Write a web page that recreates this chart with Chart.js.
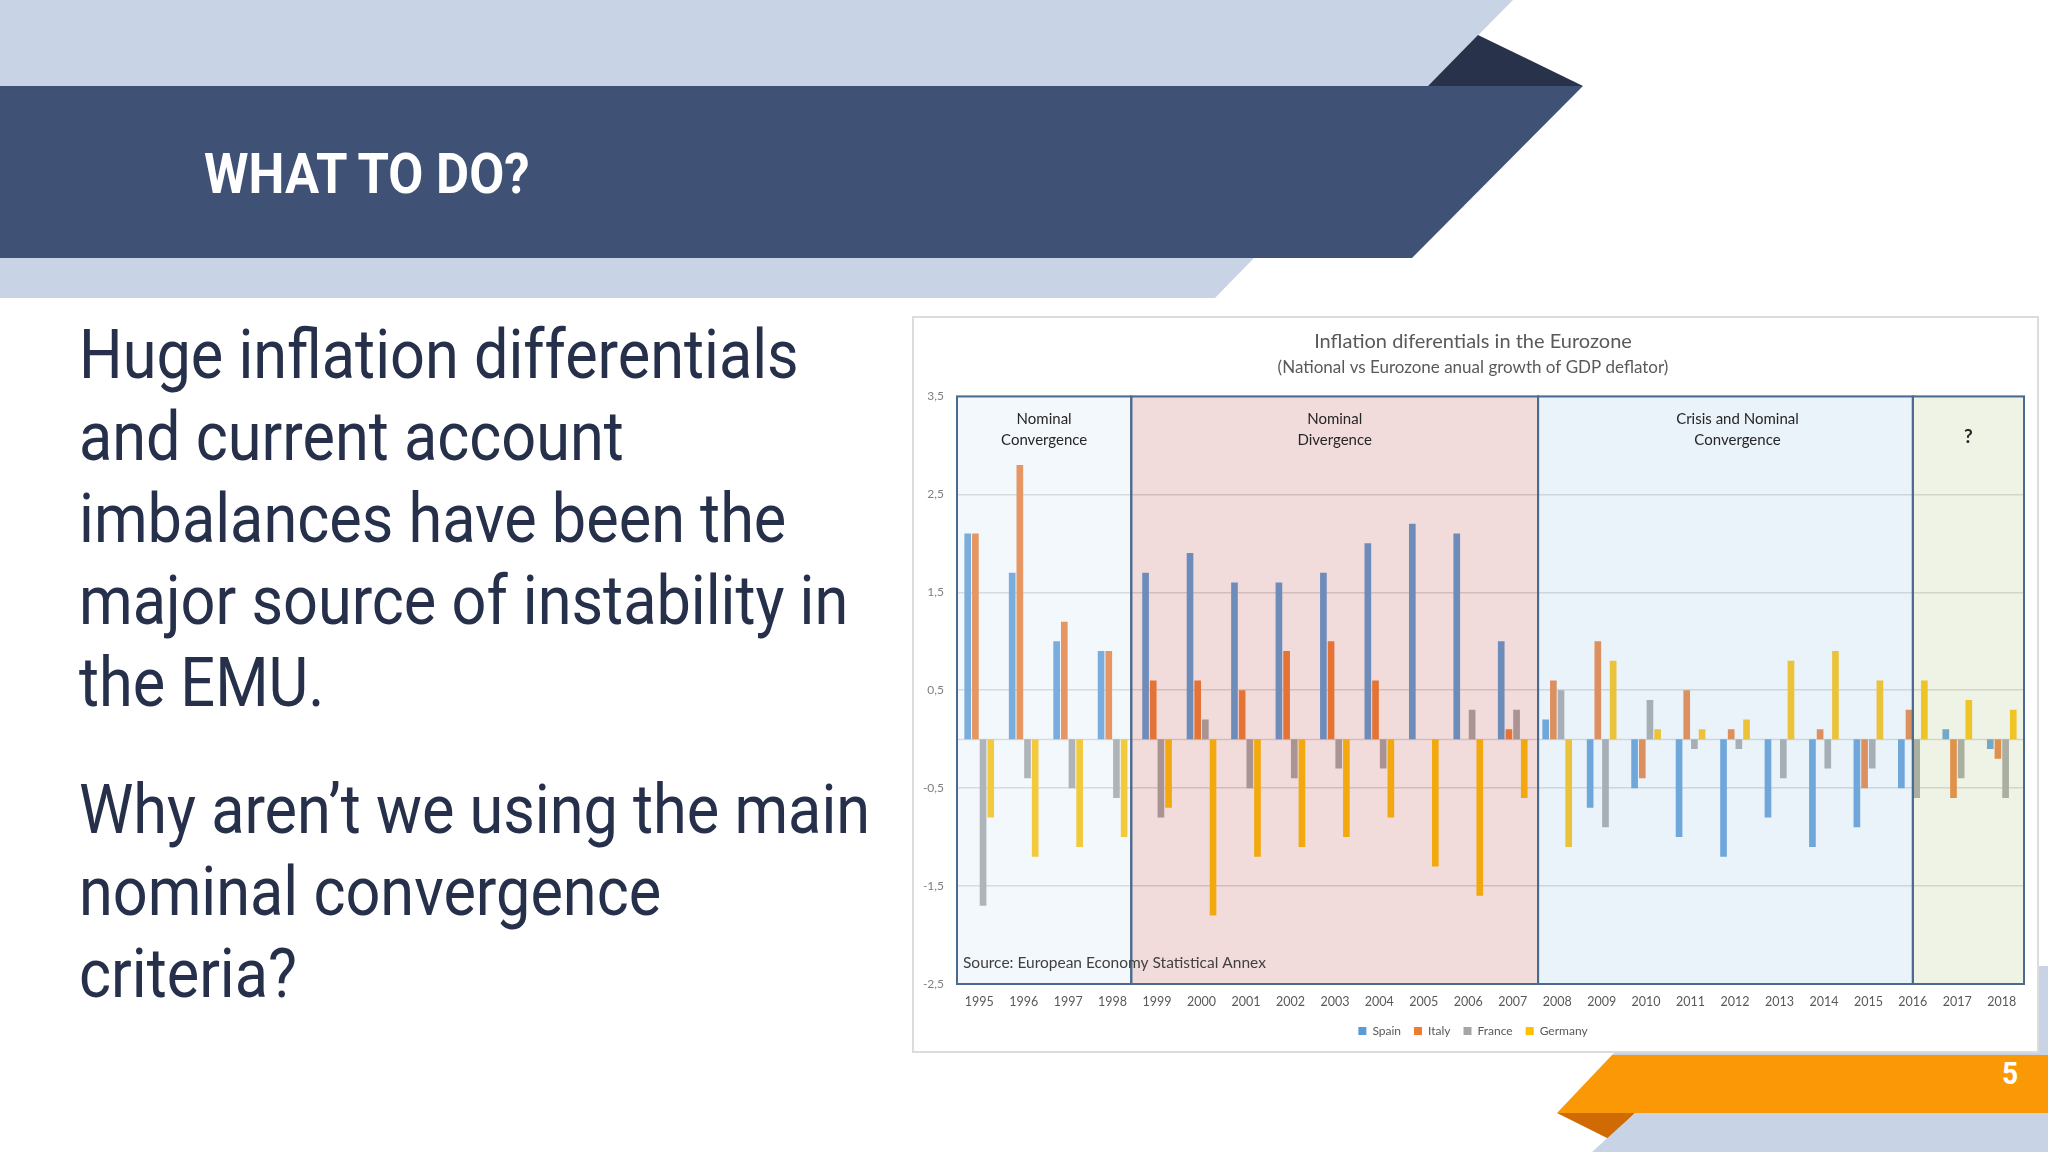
<!DOCTYPE html>
<html>
<head>
<meta charset="utf-8">
<script src="https://cdn.jsdelivr.net/npm/chart.js@4.4.1/dist/chart.umd.min.js"></script>
<style>
  html, body { margin: 0; padding: 0; }
  body { width: 2048px; height: 1152px; position: relative; overflow: hidden; background: #fff; font-family: Roboto, sans-serif; }
  #bg { position: absolute; left: 0; top: 0; }
  .title { position: absolute; left: 204px; top: 147px; font: bold 55px/55px Roboto; color: #fff; white-space: nowrap; transform: scaleX(0.925); transform-origin: left top; }
  .para { position: absolute; left: 79px; font: 68px/82px Roboto; color: #26304a; white-space: nowrap; transform: scaleX(0.9); transform-origin: left top; }
  #box { position: absolute; left: 912px; top: 316px; width: 1127px; height: 737px; box-sizing: border-box; border: 2px solid #dcdcdc; background: #fff; }
  #wrap { position: relative; width: 1123px; height: 733px; }
  .pnum { position: absolute; left: 1990px; top: 1055px; width: 40px; text-align: center; font: bold 32px/36px Roboto; color: #fff; transform: scaleX(0.88); }
</style>
</head>
<body>
<svg id="bg" width="2048" height="1152">
  <polygon points="0,0 1513,0 1428,86 0,86" fill="#c9d3e6"/>
  <polygon points="1478,35 1583,86 1428,86" fill="#28324a"/>
  <polygon points="0,86 1583,86 1412,258 0,258" fill="#3f5276"/>
  <polygon points="0,258 1254,258 1215,298 0,298" fill="#c9d3e6"/>
  <polygon points="1700,966 2048,966 2048,1055 1612,1055" fill="#c9d3e6"/>
  <polygon points="1612,1055 2048,1055 2048,1113 1557,1113" fill="#fb9805"/>
  <polygon points="1557,1113 1635,1113 1609,1139" fill="#d06b03"/>
  <polygon points="1635,1113 2048,1113 2048,1152 1592,1152" fill="#c8d3e6"/>
</svg>
<div class="title">WHAT TO DO?</div>
<div class="para" style="top:314px">Huge inflation differentials<br>and current account<br>imbalances have been the<br>major source of instability in<br>the EMU.</div>
<div class="para" style="top:769px">Why aren’t we using the main<br>nominal convergence<br>criteria?</div>
<div id="box"><div id="wrap"><canvas id="chart"></canvas></div></div>
<div class="pnum">5</div>
<script>
const years = ['1995','1996','1997','1998','1999','2000','2001','2002','2003','2004','2005','2006',
  '2007','2008','2009','2010','2011','2012','2013','2014','2015','2016','2017','2018'];
const spain   = [2.1, 1.7, 1.0, 0.9, 1.7, 1.9, 1.6, 1.6, 1.7, 2.0, 2.2, 2.1, 1.0, 0.2, -0.7, -0.5, -1.0, -1.2, -0.8, -1.1, -0.9, -0.5, 0.1, -0.1];
const italy   = [2.1, 2.8, 1.2, 0.9, 0.6, 0.6, 0.5, 0.9, 1.0, 0.6, 0, 0, 0.1, 0.6, 1.0, -0.4, 0.5, 0.1, 0, 0.1, -0.5, 0.3, -0.6, -0.2];
const france  = [-1.7, -0.4, -0.5, -0.6, -0.8, 0.2, -0.5, -0.4, -0.3, -0.3, 0, 0.3, 0.3, 0.5, -0.9, 0.4, -0.1, -0.1, -0.4, -0.3, -0.3, -0.6, -0.4, -0.6];
const germany = [-0.8, -1.2, -1.1, -1.0, -0.7, -1.8, -1.2, -1.1, -1.0, -0.8, -1.3, -1.6, -0.6, -1.1, 0.8, 0.1, 0.1, 0.2, 0.8, 0.9, 0.6, 0.6, 0.4, 0.3];
const yTicks = [-2.5, -1.5, -0.5, 0.5, 1.5, 2.5, 3.5];

// shaded periods, edges in category units from the left of the plot
const periods = [
  { from: 0, to: 3.92, fill: 'rgba(207,227,247,0.25)', text: ['Nominal', 'Convergence'], dx: 0 },
  { from: 3.92, to: 13.07, fill: 'rgba(192,80,77,0.2)', text: ['Nominal', 'Divergence'], dx: 0 },
  { from: 13.07, to: 21.5, fill: 'rgba(171,203,235,0.25)', text: ['Crisis and Nominal', 'Convergence'], dx: 12 },
  { from: 21.5, to: 24, fill: 'rgba(187,207,155,0.25)', text: ['?'], bold: true, dx: 0 }
];

const zeroLine = {
  id: 'zeroLine',
  beforeDatasetsDraw(chart) {
    const { ctx, chartArea, scales } = chart;
    const y0 = Math.round(scales.y.getPixelForValue(0)) + 0.5;
    ctx.save();
    ctx.strokeStyle = '#d9d9d9';
    ctx.lineWidth = 1.5;
    ctx.beginPath();
    ctx.moveTo(chartArea.left, y0);
    ctx.lineTo(chartArea.right, y0);
    ctx.stroke();
    ctx.restore();
  }
};

const periodBoxes = {
  id: 'periodBoxes',
  afterDatasetsDraw(chart) {
    const { ctx, chartArea, scales } = chart;
    const n = years.length;
    const top = chartArea.top, bottom = chartArea.bottom;
    ctx.save();
    periods.forEach(p => {
      const x1 = scales.x.getPixelForDecimal(p.from / n);
      const x2 = scales.x.getPixelForDecimal(p.to / n);
      ctx.fillStyle = p.fill;
      ctx.fillRect(x1, top, x2 - x1, bottom - top);
    });
    ctx.strokeStyle = '#4a6a8f';
    ctx.lineWidth = 2;
    periods.forEach(p => {
      const x1 = scales.x.getPixelForDecimal(p.from / n);
      const x2 = scales.x.getPixelForDecimal(p.to / n);
      ctx.strokeRect(x1, top, x2 - x1, bottom - top);
    });
    ctx.textAlign = 'center';
    ctx.textBaseline = 'middle';
    ctx.fillStyle = '#262626';
    periods.forEach(p => {
      const cx = (scales.x.getPixelForDecimal(p.from / n) + scales.x.getPixelForDecimal(p.to / n)) / 2 + p.dx;
      if (p.bold) {
        ctx.font = 'bold 19px Lato';
        ctx.fillText(p.text[0], cx, top + 40);
      } else {
        ctx.font = '15px Lato';
        p.text.forEach((t, i) => ctx.fillText(t, cx, top + 23 + i * 21));
      }
    });
    ctx.textAlign = 'left';
    ctx.font = '15.5px Lato';
    ctx.fillStyle = '#404040';
    ctx.fillText('Source: European Economy Statistical Annex', chartArea.left + 6, bottom - 21);
    ctx.restore();
  }
};

new Chart(document.getElementById('chart'), {
  type: 'bar',
  data: {
    labels: years,
    datasets: [
      { label: 'Spain', data: spain, backgroundColor: '#5b9bd5' },
      { label: 'Italy', data: italy, backgroundColor: '#ed7d31' },
      { label: 'France', data: france, backgroundColor: '#a5a5a5' },
      { label: 'Germany', data: germany, backgroundColor: '#ffc000' }
    ]
  },
  options: {
    responsive: true,
    maintainAspectRatio: false,
    animation: false,
    layout: { padding: { left: 8, right: 13, top: 0, bottom: 4 } },
    datasets: { bar: { categoryPercentage: 0.69, barPercentage: 0.87 } },
    plugins: {
      title: {
        display: true,
        text: 'Inflation diferentials in the Eurozone',
        color: '#595959',
        font: { family: 'Lato', size: 20, weight: 'normal' },
        padding: { top: 12, bottom: 3 }
      },
      subtitle: {
        display: true,
        text: '(National vs Eurozone anual growth of GDP deflator)',
        color: '#595959',
        font: { family: 'Lato', size: 17 },
        padding: { bottom: 19 }
      },
      legend: {
        position: 'bottom',
        labels: { boxWidth: 8, boxHeight: 8, padding: 13, color: '#595959', font: { family: 'Lato', size: 12 } }
      },
      tooltip: { enabled: false }
    },
    scales: {
      x: {
        grid: { display: false, drawTicks: false },
        border: { display: false },
        ticks: { color: '#595959', padding: 10, font: { family: 'Lato', size: 12.5 } },
        afterFit(s) { s.height = 28; }
      },
      y: {
        min: yTicks[0],
        max: yTicks[yTicks.length - 1],
        afterBuildTicks(s) { s.ticks = yTicks.map(v => ({ value: v })); },
        grid: { color: '#d9d9d9', lineWidth: 1.5, drawTicks: false },
        border: { display: false },
        ticks: {
          color: '#7f7f7f',
          padding: 13,
          font: { family: 'Lato', size: 12 },
          callback: v => v.toFixed(1).replace('.', ',')
        },
        afterFit(s) { s.width = 35; }
      }
    }
  },
  plugins: [zeroLine, periodBoxes]
});
</script>
</body>
</html>
